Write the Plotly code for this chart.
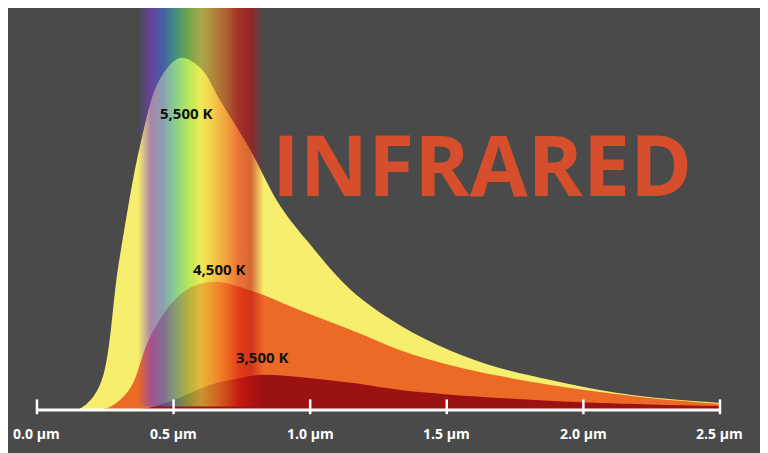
import plotly.graph_objects as go

# wavelength (um) and relative intensity
wl_5500 = [0.10, 0.16, 0.23, 0.30, 0.38, 0.45, 0.525, 0.60, 0.67, 0.78, 0.89, 1.00, 1.15, 1.33, 1.51, 1.69, 1.88, 2.06, 2.24, 2.50]
i_5500 = [0.0, 0.005, 0.07, 0.42, 0.76, 0.94, 1.0, 0.97, 0.88, 0.74, 0.58, 0.47, 0.34, 0.24, 0.17, 0.12, 0.085, 0.057, 0.037, 0.02]

wl_4500 = [0.10, 0.20, 0.27, 0.34, 0.41, 0.49, 0.56, 0.65, 0.78, 0.96, 1.15, 1.33, 1.51, 1.69, 1.88, 2.06, 2.24, 2.50]
i_4500 = [0.0, 0.0, 0.01, 0.06, 0.20, 0.30, 0.347, 0.364, 0.34, 0.284, 0.227, 0.17, 0.128, 0.097, 0.071, 0.051, 0.034, 0.017]

wl_3500 = [0.10, 0.30, 0.41, 0.52, 0.63, 0.74, 0.82, 0.96, 1.15, 1.33, 1.69, 2.06, 2.50]
i_3500 = [0.0, 0.0, 0.006, 0.034, 0.07, 0.09, 0.10, 0.094, 0.077, 0.057, 0.034, 0.02, 0.011]

tick_vals = [0.0, 0.5, 1.0, 1.5, 2.0, 2.5]
tick_text = ["0.0 µm", "0.5 µm", "1.0 µm", "1.5 µm", "2.0 µm", "2.5 µm"]

# visible band edges and its colour stops
band_x = [0.37, 0.83]
spec_colors = ["rgba(122,63,208,0)", "rgba(122,63,208,0.6)", "rgba(63,110,224,0.6)", "rgba(63,192,160,0.6)",
               "rgba(142,224,74,0.6)", "rgba(232,232,74,0.6)", "rgba(245,176,48,0.6)", "rgba(240,112,32,0.6)",
               "rgba(224,32,16,0.6)", "rgba(192,16,16,0.6)", "rgba(192,16,16,0)"]

fig = go.Figure()

fig.add_trace(go.Scatter(x=wl_5500, y=i_5500, mode="lines", line=dict(color="#f6ee6c", width=0, shape="spline"),
                         fill="tozeroy", fillcolor="#f6ee6c", hoverinfo="skip"))
fig.add_trace(go.Scatter(x=wl_4500, y=i_4500, mode="lines", line=dict(color="#ec6a26", width=0, shape="spline"),
                         fill="tozeroy", fillcolor="#ec6a26", hoverinfo="skip"))
fig.add_trace(go.Scatter(x=wl_3500, y=i_3500, mode="lines", line=dict(color="#9c1212", width=0, shape="spline"),
                         fill="tozeroy", fillcolor="#9c1212", hoverinfo="skip"))

# spectrum band on top of the curves
n = len(spec_colors)
fig.add_trace(go.Scatter(
    x=[band_x[0], band_x[1], band_x[1], band_x[0], band_x[0]], y=[0.01, 0.01, 1.2, 1.2, 0.01],
    mode="lines", line=dict(width=0), fill="toself", hoverinfo="skip",
    fillgradient=dict(type="horizontal", colorscale=[[k / (n - 1), c] for k, c in enumerate(spec_colors)]),
))

# axis line and ticks
fig.add_trace(go.Scatter(x=[0, 2.5], y=[0, 0], mode="lines", line=dict(color="white", width=3), hoverinfo="skip"))
for t, lab in zip(tick_vals, tick_text):
    fig.add_trace(go.Scatter(x=[t, t], y=[-0.012, 0.03], mode="lines", line=dict(color="white", width=2.5), hoverinfo="skip"))
    fig.add_annotation(x=t, y=-0.035, text=lab, showarrow=False, yanchor="top",
                       font=dict(family="Open Sans", size=14, color="white", weight="bold"))

for txt, x, y in [("5,500 K", 0.545, 0.845), ("4,500 K", 0.665, 0.40), ("3,500 K", 0.825, 0.15)]:
    fig.add_annotation(x=x, y=y, text=txt, showarrow=False,
                       font=dict(family="Open Sans", size=15, color="#111111", weight="bold"))

fig.add_annotation(x=1.63, y=0.70, text="INFRARED", showarrow=False,
                   font=dict(family="Open Sans", size=84, color="#d64e2c", weight="bold"))

fig.update_layout(
    width=768, height=453, margin=dict(l=0, r=0, t=0, b=0),
    paper_bgcolor="#4a4a4a", plot_bgcolor="#4a4a4a", showlegend=False,
    xaxis=dict(range=[-0.106, 2.705], visible=False, fixedrange=True),
    yaxis=dict(range=[-0.145, 1.142], visible=False, fixedrange=True),
)

fig.write_html("out.html")
